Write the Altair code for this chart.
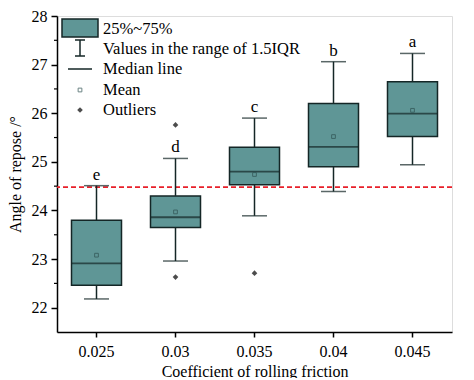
import altair as alt
import pandas as pd

categories = ["0.025", "0.03", "0.035", "0.04", "0.045"]
lower = [22.18, 22.96, 23.89, 24.39, 24.94]
q1 = [22.46, 23.65, 24.53, 24.90, 25.52]
median = [22.91, 23.86, 24.80, 25.31, 25.99]
q3 = [23.80, 24.30, 25.30, 26.20, 26.65]
upper = [24.51, 25.07, 25.90, 27.06, 27.23]
means = [23.08, 23.97, 24.74, 25.52, 26.06]
letters = ["e", "d", "c", "b", "a"]

outlier_cat = ["0.03", "0.03", "0.035"]
outlier_val = [25.76, 22.63, 22.71]

ref_value = 24.48
major_ticks = [22, 23, 24, 25, 26, 27, 28]
minor_ticks = [22.5, 23.5, 24.5, 25.5, 26.5, 27.5]

legend_labels = ["25%~75%", "Values in the range of 1.5IQR", "Median line", "Mean", "Outliers"]

FONT = "Liberation Serif"
FILL = "#5f9696"
DARK = "#142626"

df = pd.DataFrame({"c": categories, "lower": lower, "q1": q1, "median": median,
                   "q3": q3, "upper": upper, "mean": means, "letter": letters})
out_df = pd.DataFrame({"c": outlier_cat, "v": outlier_val})

xenc = alt.X("c:N", sort=categories,
             scale=alt.Scale(paddingInner=0, paddingOuter=0),
             axis=alt.Axis(title="Coefficient of rolling friction", labelAngle=0,
                           labelFontSize=16, titleFontSize=16, labelFont=FONT, titleFont=FONT,
                           tickSize=5, labelPadding=6, titlePadding=4, domainColor="black",
                           tickColor="black", labelColor="black", titleColor="black",
                           domainWidth=1.5, tickWidth=1.5, titleFontWeight="normal"))
yscale = alt.Scale(domain=[21.5, 28], nice=False, zero=False)
yaxis = alt.Axis(title="Angle of repose /°", values=major_ticks, labelFontSize=16,
                 titleFontSize=16, labelFont=FONT, titleFont=FONT, tickSize=6,
                 labelPadding=4, titlePadding=8, domainColor="black", tickColor="black",
                 labelColor="black", titleColor="black", grid=False, domainWidth=1.5,
                 tickWidth=1.5, titleFontWeight="normal")

base = alt.Chart(df)

whisk_lo = base.mark_rule(color=DARK, strokeWidth=1.5).encode(
    x=xenc, y=alt.Y("lower:Q", scale=yscale, axis=yaxis), y2="q1:Q")
whisk_hi = base.mark_rule(color=DARK, strokeWidth=1.5).encode(
    x=alt.X("c:N", sort=categories), y=alt.Y("q3:Q"), y2="upper:Q")
cap_lo = base.mark_tick(color=DARK, size=25, thickness=1.5, orient="horizontal").encode(
    x=alt.X("c:N", sort=categories), y="lower:Q")
cap_hi = base.mark_tick(color=DARK, size=25, thickness=1.5, orient="horizontal").encode(
    x=alt.X("c:N", sort=categories), y="upper:Q")
box = base.mark_bar(fill=FILL, stroke=DARK, strokeWidth=1.5, size=50).encode(
    x=alt.X("c:N", sort=categories), y="q1:Q", y2="q3:Q")
med = base.mark_tick(color=DARK, size=50, thickness=1.8, orient="horizontal").encode(
    x=alt.X("c:N", sort=categories), y="median:Q")
mean_pt = base.mark_point(shape="square", size=14, filled=False, color="#2e5050",
                          strokeWidth=1).encode(
    x=alt.X("c:N", sort=categories), y="mean:Q")
letter_txt = base.mark_text(font=FONT, fontSize=17, dy=-11, color="black").encode(
    x=alt.X("c:N", sort=categories), y="upper:Q", text="letter:N")
outl = alt.Chart(out_df).mark_point(shape="diamond", size=32, filled=True, color="black").encode(
    x=alt.X("c:N", sort=categories), y="v:Q")
ref = alt.Chart(pd.DataFrame({"v": [ref_value]})).mark_rule(
    color="#e8202a", strokeDash=[5, 3], strokeWidth=1.6).encode(y="v:Q")
minor = alt.Chart(pd.DataFrame({"v": minor_ticks})).mark_rule(
    color="black", strokeWidth=1.2).encode(x=alt.value(0), x2=alt.value(-3), y="v:Q")

one = pd.DataFrame({"a": [0]})
# legend (drawn inside plot, top-left)
leg_texts = [
    alt.Chart(one).mark_text(font=FONT, fontSize=16.5, align="left", baseline="middle",
                             color="black", text=t).encode(x=alt.value(46), y=alt.value(yy))
    for t, yy in zip(legend_labels, [13, 33, 53, 74, 94])
]
leg_box = alt.Chart(one).mark_rect(fill=FILL, stroke=DARK, strokeWidth=1.5).encode(
    x=alt.value(5), x2=alt.value(41), y=alt.value(3), y2=alt.value(21))
leg_wh = alt.Chart(one).mark_rule(color=DARK, strokeWidth=1.5).encode(
    x=alt.value(23), y=alt.value(24), y2=alt.value(40))
leg_cap1 = alt.Chart(one).mark_rule(color=DARK, strokeWidth=1.5).encode(
    x=alt.value(18), x2=alt.value(28), y=alt.value(24))
leg_cap2 = alt.Chart(one).mark_rule(color=DARK, strokeWidth=1.5).encode(
    x=alt.value(18), x2=alt.value(28), y=alt.value(40))
leg_med = alt.Chart(one).mark_rule(color=DARK, strokeWidth=1.5).encode(
    x=alt.value(11), x2=alt.value(35), y=alt.value(53))
leg_mean = alt.Chart(one).mark_point(
    shape="square", size=14, filled=False, color="#2e5050", strokeWidth=1).encode(
    x=alt.value(23), y=alt.value(74))
leg_out = alt.Chart(one).mark_point(
    shape="diamond", size=32, filled=True, color="black").encode(
    x=alt.value(23), y=alt.value(94))

chart = alt.layer(
    ref, whisk_lo, whisk_hi, cap_lo, cap_hi, box, med, mean_pt, letter_txt, outl, minor,
    leg_box, leg_wh, leg_cap1, leg_cap2, leg_med, leg_mean, leg_out, *leg_texts
).properties(
    width=395, height=316,
    autosize=alt.AutoSizeParams(type="none"),
    padding={"left": 49, "top": 8, "right": 14, "bottom": 46},
).configure_view(stroke="black", strokeWidth=1.5).configure(background="white")

chart.save("out.html", embed_options={"renderer": "svg", "actions": False})
